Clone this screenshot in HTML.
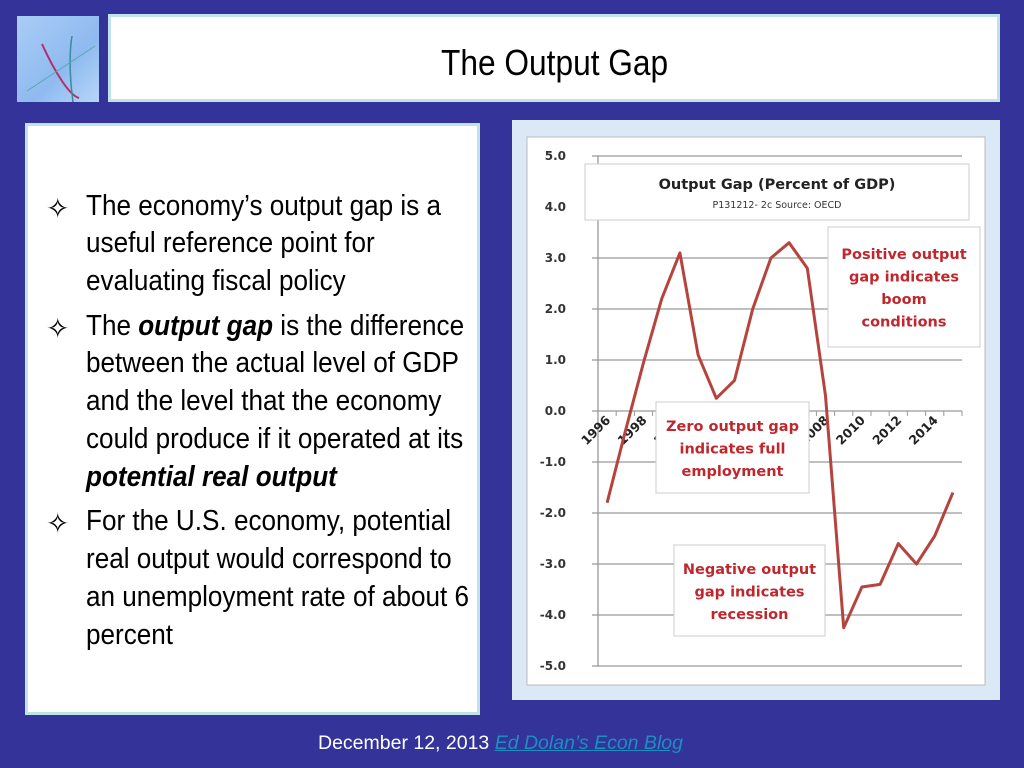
<!DOCTYPE html>
<html><head><meta charset="utf-8"><style>
body{margin:0;width:1024px;height:768px;background:#333399;position:relative;overflow:hidden;font-family:"Liberation Sans",sans-serif}
.abs{position:absolute}
#logo{left:17px;top:16px;width:82px;height:86px;background:linear-gradient(135deg,#a9cdf5,#8fbaf0 60%,#b6d6f7)}
#title{left:108px;top:14px;width:886px;height:82px;background:#fff;border:3px solid #bfe3e8;color:#000}
#title span{position:absolute;left:330px;top:25px;font-size:36px;white-space:nowrap;transform:scaleX(0.88);transform-origin:left top}
#left{left:25px;top:123px;width:449px;height:586px;background:#fff;border:3px solid #bfe3e8}
.line{position:absolute;left:58px;font-size:29px;white-space:nowrap;color:#000;transform:scaleX(0.9);transform-origin:left top}
.bul{position:absolute;left:18px;font-size:28px;font-family:"DejaVu Sans",sans-serif}
#foot{left:318px;top:732px;color:#fff;font-size:19.5px;white-space:nowrap}
#foot a{color:#1a8fc0;font-style:italic}
</style></head><body>
<div class="abs" id="logo">
<svg width="82" height="86"><path d="M25 28 Q35 50 45 65 T62 82" stroke="#b0306a" stroke-width="2" fill="none"/><path d="M55 20 Q50 50 58 100" stroke="#3a8aa0" stroke-width="1.5" fill="none"/><path d="M10 75 L78 30" stroke="#5aa" stroke-width="1" fill="none"/></svg></div>
<div class="abs" id="title"><span>The Output Gap</span></div>
<div class="abs" id="left">
<span class="bul" style="top:66px">✧</span>
<div class="line" style="top:64px">The economy’s output gap is a</div>
<div class="line" style="top:101px">useful reference point for</div>
<div class="line" style="top:139px">evaluating fiscal policy</div>
<span class="bul" style="top:186px">✧</span>
<div class="line" style="top:184px">The <b><i>output gap</i></b> is the difference</div>
<div class="line" style="top:221px">between the actual level of GDP</div>
<div class="line" style="top:259px">and the level that the economy</div>
<div class="line" style="top:297px">could produce if it operated at its</div>
<div class="line" style="top:335px"><b><i>potential real output</i></b></div>
<span class="bul" style="top:381px">✧</span>
<div class="line" style="top:379px">For the U.S. economy, potential</div>
<div class="line" style="top:417px">real output would correspond to</div>
<div class="line" style="top:455px">an unemployment rate of about 6</div>
<div class="line" style="top:493px">percent</div>
</div>
<svg class="abs" style="left:0;top:0" width="1024" height="768">
<rect x="512" y="120" width="488" height="580" fill="#dae9f5"/>
<rect x="527" y="137" width="458" height="548" fill="#fff" stroke="#bbb"/>
<g id="grid"></g><g id="ticks"></g><g id="xl"></g><g id="yl"></g>
<path id="series" fill="none" stroke="#b5443f" stroke-width="3" stroke-linejoin="round"/>
<g id="ann"></g>
</svg>
<div class="abs" id="foot">December 12, 2013 <a href="#">Ed Dolan’s Econ Blog</a></div>
<script>
const years=[1996,1997,1998,1999,2000,2001,2002,2003,2004,2005,2006,2007,2008,2009,2010,2011,2012,2013,2014,2015];
const gapValues=[-1.8,-0.4,0.95,2.2,3.1,1.1,0.25,0.6,2.0,3.0,3.3,2.8,0.3,-4.25,-3.45,-3.4,-2.6,-3.0,-2.45,-1.6];
const yTicks=[5,4,3,2,1,0,-1,-2,-3,-4,-5];
const xLabels=["1996","1998","2000","2002","2004","2006","2008","2010","2012","2014"];
const NS="http://www.w3.org/2000/svg";
const left=598,right=962,n=years.length,step=(right-left)/n;
function x(i){return left+step*(i+0.5);}
function y(v){return 411-v*51;}
function mk(tag,attrs,parent,txt){const e=document.createElementNS(NS,tag);for(const k in attrs)e.setAttribute(k,attrs[k]);if(txt!==undefined)e.textContent=txt;document.getElementById(parent).appendChild(e);return e;}
yTicks.forEach(v=>{
 const g=mk('line',{x1:left-6,x2:right,y1:y(v),y2:y(v),stroke:'#999','stroke-width':1.3},'grid');
 
 
 const t=mk('text',{x:566,y:y(v)+4,'text-anchor':'end','font-size':12,'font-weight':'bold',fill:'#333','font-family':'DejaVu Sans'},'yl',v.toFixed(1));
 
 
});
const ax=mk('line',{x1:left,x2:left,y1:y(5),y2:y(-5),stroke:'#999','stroke-width':1.3},'grid');


for(let i=0;i<=n;i++){const tk=mk('line',{x1:left+step*i,x2:left+step*i,y1:y(0),y2:y(0)+5,stroke:'#999'},'ticks');
 
 }
xLabels.forEach(l=>{const i=years.indexOf(+l);const px=x(i)+4,py=y(0)+10;
 const t=mk('text',{x:px,y:py,'text-anchor':'end','font-size':12.5,'font-weight':'bold',fill:'#222','font-family':'DejaVu Sans',transform:`rotate(-45 ${px} ${py})`},'xl',l);
 
 });
const s=document.getElementById('series');
s.setAttribute('d',gapValues.map((v,i)=>(i?'L':'M')+x(i).toFixed(1)+' '+y(v).toFixed(1)).join(' '));


function box(x0,y0,w,h,lines,name,fs,col,lh,top,boldAll){
 const r=mk('rect',{x:x0,y:y0,width:w,height:h,fill:'#fff',stroke:'#ccc'},'ann');
 
 
 lines.forEach((l,k)=>{const t=mk('text',{x:x0+w/2,y:y0+top+k*lh,'text-anchor':'middle','font-size':fs[k]||fs[0],'font-weight':(boldAll||k===0)?'bold':'normal',fill:col[k]||col[0],'font-family':'DejaVu Sans'},'ann',l);
 
 });
}
box(585,164,384,56,['Output Gap (Percent of GDP)','P131212- 2c Source: OECD'],'chart-title-box',[14.5,9.5],['#222','#333'],19,25,false);
box(828,227,152,120,['Positive output','gap indicates','boom','conditions'],'positive-gap-note',[14.5],['#c0272d'],22.5,32,true);
box(656,402,153,91,['Zero output gap','indicates full','employment'],'zero-gap-note',[14.5],['#c0272d'],22.5,29,true);
box(674,545,151,91,['Negative output','gap indicates','recession'],'negative-gap-note',[14.5],['#c0272d'],22.5,29,true);
</script>
</body></html>
